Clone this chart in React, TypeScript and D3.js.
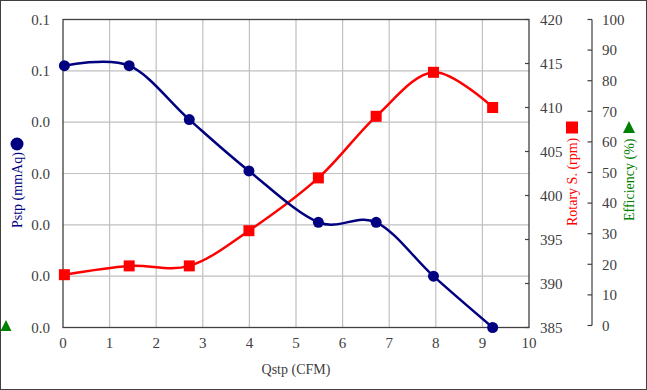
import React from "react";
import * as d3 from "d3";

// flow readings
const qstp = [0.03, 1.42, 2.71, 3.99, 5.48, 6.72, 7.95, 9.22];
const pstp = [0.102, 0.102, 0.081, 0.061, 0.041, 0.041, 0.02, 0.0];
const rotary = [391, 392, 392, 396, 402, 409, 414, 410];

// axis ticks
const qTicks = [0, 1, 2, 3, 4, 5, 6, 7, 8, 9, 10];
const pTicks = [0, 0.02, 0.04, 0.06, 0.08, 0.1, 0.12];
const pTickLabels = ["0.0", "0.0", "0.0", "0.0", "0.0", "0.1", "0.1"];
const rTicks = [385, 390, 395, 400, 405, 410, 415, 420];
const eTicks = [0, 10, 20, 30, 40, 50, 60, 70, 80, 90, 100];

const W = 647;
const H = 390;
const NAVY = "#000080";
const RED = "#ff0000";
const GREEN = "#008000";
const AXIS = "#404040";
const GRID = "#c0c0c0";
const FONT = "Liberation Serif, DejaVu Serif, Times New Roman, serif";

export default function App() {
  const x = d3.scaleLinear().domain([0, 10]).range([63, 529]);
  const yP = d3.scaleLinear().domain([0, 0.12]).range([327.5, 19.5]);
  const yR = d3.scaleLinear().domain([385, 420]).range([327.5, 19.5]);
  const yE = d3.scaleLinear().domain([0, 100]).range([325.5, 19.5]);

  const pLine = d3
    .line<number>()
    .x((_, i) => x(qstp[i]))
    .y((d) => yP(d))
    .curve(d3.curveCardinal.tension(0));
  const rLine = d3
    .line<number>()
    .x((_, i) => x(qstp[i]))
    .y((d) => yR(d))
    .curve(d3.curveCardinal.tension(0));

  const [x0, x1] = x.range();
  const [yb, yt] = yP.range();
  const tri = (cx: number, cy: number, s: number) =>
    `M${cx},${cy - s * 0.55} L${cx + s / 2},${cy + s * 0.45} L${cx - s / 2},${cy + s * 0.45} Z`;

  return (
    <svg
      width={W}
      height={H}
      style={{ position: "absolute", left: 0, top: 0, background: "#fff", fontFamily: FONT }}
    >
      <rect x={0.5} y={0.5} width={W - 1} height={H - 1} fill="#fff" stroke={AXIS} strokeWidth={1} />

      {/* grid */}
      {qTicks.slice(1, -1).map((t) => (
        <line key={"gx" + t} x1={x(t)} x2={x(t)} y1={yt} y2={yb} stroke={GRID} strokeWidth={1.2} />
      ))}
      {pTicks.slice(1, -1).map((t) => (
        <line key={"gy" + t} x1={x0} x2={x1} y1={yP(t)} y2={yP(t)} stroke={GRID} strokeWidth={1.2} />
      ))}
      <rect x={x0} y={yt} width={x1 - x0} height={yb - yt} fill="none" stroke={AXIS} strokeWidth={1.3} />

      {/* left axis labels */}
      {pTicks.map((t, i) => (
        <text key={"pl" + t} x={50} y={yP(t)} dy="0.35em" textAnchor="end" fontSize={15} fill={AXIS}>
          {pTickLabels[i]}
        </text>
      ))}
      {/* bottom axis labels */}
      {qTicks.map((t) => (
        <text key={"ql" + t} x={x(t)} y={343} dy="0.35em" textAnchor="middle" fontSize={15} fill={AXIS}>
          {t}
        </text>
      ))}
      <text x={296} y={369} dy="0.35em" textAnchor="middle" fontSize={14} fill={AXIS}>
        Qstp (CFM)
      </text>

      {/* rpm axis */}
      {rTicks.map((t) => (
        <g key={"rt" + t}>
          <line x1={x1 - 4} x2={x1} y1={yR(t)} y2={yR(t)} stroke={AXIS} strokeWidth={1.2} />
          <text x={540} y={yR(t)} dy="0.35em" fontSize={15} fill={AXIS}>
            {t}
          </text>
        </g>
      ))}

      {/* efficiency axis */}
      <line x1={592} x2={592} y1={yE(0)} y2={yE(100)} stroke={AXIS} strokeWidth={1.2} />
      {eTicks.map((t) => (
        <g key={"et" + t}>
          <line x1={587.5} x2={592} y1={yE(t)} y2={yE(t)} stroke={AXIS} strokeWidth={1.2} />
          <text x={602} y={yE(t)} dy="0.35em" fontSize={15} fill={AXIS}>
            {t}
          </text>
        </g>
      ))}

      {/* series */}
      <path d={rLine(rotary) || ""} fill="none" stroke={RED} strokeWidth={2.5} />
      <path d={pLine(pstp) || ""} fill="none" stroke={NAVY} strokeWidth={2.5} />
      {rotary.map((v, i) => (
        <rect key={"rs" + i} x={x(qstp[i]) - 5.5} y={yR(v) - 5.5} width={11} height={11} fill={RED} />
      ))}
      {pstp.map((v, i) => (
        <circle key={"pc" + i} cx={x(qstp[i])} cy={yP(v)} r={5.5} fill={NAVY} />
      ))}

      {/* axis titles with legend markers */}
      <circle cx={17} cy={144} r={6.5} fill={NAVY} />
      <text transform="translate(17,228) rotate(-90)" dy="0.35em" fontSize={14} fill={NAVY}>
        Pstp (mmAq)
      </text>
      <rect x={566} y={121.5} width={12} height={12} fill={RED} />
      <text transform="translate(572,226) rotate(-90)" dy="0.35em" fontSize={14} fill={RED}>
        Rotary S. (rpm)
      </text>
      <path d={tri(629, 127.5, 12)} fill={GREEN} />
      <text transform="translate(629,221) rotate(-90)" dy="0.35em" fontSize={14} fill={GREEN}>
        Efficiency (%)
      </text>
      <path d={tri(6, 326, 11)} fill={GREEN} />
    </svg>
  );
}
